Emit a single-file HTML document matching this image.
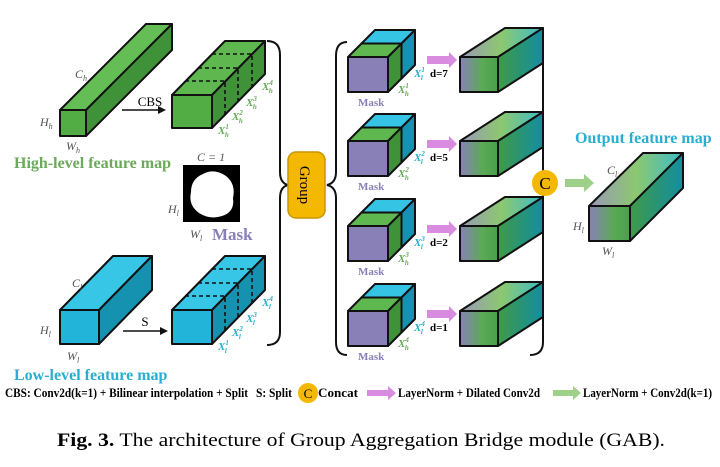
<!DOCTYPE html>
<html><head><meta charset="utf-8"><style>html,body{margin:0;padding:0;background:#fff}svg{display:block}</style></head>
<body>
<svg width="720" height="467" viewBox="0 0 720 467" xmlns="http://www.w3.org/2000/svg" font-family="Liberation Serif, serif">
<defs>
<linearGradient id="gf" x1="0" y1="0" x2="1" y2="0"><stop offset="0" stop-color="#8a80b8"/><stop offset="0.6" stop-color="#5aaa55"/><stop offset="1" stop-color="#4a9e4c"/></linearGradient>
<linearGradient id="gt" x1="0" y1="0" x2="1" y2="0"><stop offset="0" stop-color="#9a98b8"/><stop offset="0.5" stop-color="#8cc870"/><stop offset="1" stop-color="#3cbcc8"/></linearGradient>
<linearGradient id="gs" x1="0" y1="0" x2="1" y2="0"><stop offset="0" stop-color="#3f9a48"/><stop offset="1" stop-color="#138ea0"/></linearGradient>
<g id="combo" stroke="#111" stroke-width="2" stroke-linejoin="round">
<polygon points="361.5,43.5 375,30 415,30 401.5,43.5" fill="#35c4e4"/>
<polygon points="401.5,43.5 415,30 415,65 401.5,78.5" fill="#1592b0"/>
<polygon points="348,57 361.5,43.5 401.5,43.5 388,57" fill="#5fb84f"/>
<polygon points="388,57 401.5,43.5 401.5,78.5 388,92" fill="#3f9238"/>
<rect x="348" y="57" width="40" height="35" fill="#8a80b8"/>
<polygon points="427,56 449,56 449,52 457,60 449,68 449,64 427,64" fill="#d98be0" stroke="none"/>
<polygon points="460,57 505,28 543,28 498,57" fill="url(#gt)"/>
<polygon points="498,57 543,28 543,63 498,92" fill="url(#gs)"/>
<rect x="460" y="57" width="38" height="35" fill="url(#gf)"/>
</g>
</defs>
<g stroke="#111" stroke-width="2" stroke-linejoin="round">
<!-- high-level bar -->
<polygon points="60,110 146,24 172,24 86,110" fill="#65bd55"/>
<polygon points="86,110 172,24 172,50 86,136" fill="#3f9238"/>
<rect x="60" y="110" width="26" height="26" fill="#52ad44"/>
<!-- green split -->
<polygon points="172,95 225,41 265,41 212,95" fill="#5fb84f"/>
<polygon points="212,95 265,41 265,74 212,128" fill="#3f9238"/>
<rect x="172" y="95" width="40" height="33" fill="#52ad44"/>
<!-- low-level bar -->
<polygon points="60,310 113,256 152,256 99,310" fill="#38c6e6"/>
<polygon points="99,310 152,256 152,290 99,344" fill="#1592b0"/>
<rect x="60" y="310" width="39" height="34" fill="#23b4da"/>
<!-- blue split -->
<polygon points="172,310 225,256 265,256 212,310" fill="#38c6e6"/>
<polygon points="212,310 265,256 265,290 212,344" fill="#1592b0"/>
<rect x="172" y="310" width="40" height="34" fill="#23b4da"/>
<!-- output -->
<polygon points="589,206 643,153 683,153 630,206" fill="url(#gt)"/>
<polygon points="630,206 683,153 683,188 630,241" fill="url(#gs)"/>
<rect x="589" y="206" width="41" height="35" fill="url(#gf)"/>
</g>
<g stroke="#111" stroke-width="1.6" stroke-dasharray="4,3" fill="none">
<path d="M185,81 H225 V115 M198,68 H238 V101 M212,54 H252 V88"/>
<path d="M185,296 H225 V330 M198,283 H238 V317 M212,269 H252 V303"/>
</g>
<!-- arrows -->
<g stroke="#111" stroke-width="1.5" fill="#111">
<line x1="122" y1="110" x2="160" y2="110"/><polygon points="166,110 158,106 158,114" stroke="none"/>
<line x1="123" y1="331" x2="162" y2="331"/><polygon points="168,331 160,327 160,335" stroke="none"/>
</g>
<text x="150" y="106" font-size="13" text-anchor="middle">CBS</text>
<text x="145" y="326" font-size="13" text-anchor="middle">S</text>
<!-- braces -->
<g stroke="#111" stroke-width="2" fill="none">
<path d="M267,41 Q280,41 280,55 V172 Q280,183 288,185 Q280,187 280,198 V332 Q280,345 267,345"/>
<path d="M347,42 Q336,42 336,56 V172 Q336,183 327,185 Q336,187 336,198 V342 Q336,355 347,355"/>
<path d="M530,28 Q543,28 543,42 V342 Q543,355 530,355"/>
</g>
<rect x="288" y="152" width="37" height="66" rx="8" fill="#f5b800" stroke="#c89400" stroke-width="1.5"/>
<text transform="translate(300,185) rotate(90)" font-size="15" text-anchor="middle">Group</text>
<!-- mask -->
<rect x="183" y="165" width="57" height="57" fill="#000"/>
<path d="M203,174 Q214,168 226,176 Q236,184 233,198 Q235,212 222,216 Q210,220 199,213 Q188,205 191,192 Q191,179 203,174Z" fill="#fff"/>
<g font-style="italic" fill="#555" font-size="12">
<text x="197" y="161">C = 1</text>
<text x="168" y="213">H<tspan font-size="8" dy="3">l</tspan></text>
<text x="190" y="238">W<tspan font-size="8" dy="3">l</tspan></text>
<text x="75" y="78">C<tspan font-size="8" dy="3">h</tspan></text>
<text x="40" y="126">H<tspan font-size="8" dy="3">h</tspan></text>
<text x="66" y="150">W<tspan font-size="8" dy="3">h</tspan></text>
<text x="72" y="287">C<tspan font-size="8" dy="3">l</tspan></text>
<text x="40" y="334">H<tspan font-size="8" dy="3">l</tspan></text>
<text x="67" y="360">W<tspan font-size="8" dy="3">l</tspan></text>
<text x="607" y="174">C<tspan font-size="8" dy="3">l</tspan></text>
<text x="573" y="230">H<tspan font-size="8" dy="3">l</tspan></text>
<text x="602" y="255">W<tspan font-size="8" dy="3">l</tspan></text>
</g>
<text x="212" y="240" font-size="17" font-weight="bold" fill="#8a80b8">Mask</text>
<text x="14" y="168" font-size="16" font-weight="bold" fill="#6aaa5a">High-level feature map</text>
<text x="14" y="380" font-size="16" font-weight="bold" fill="#28aed0">Low-level feature map</text>
<text x="575" y="143" font-size="16" font-weight="bold" fill="#28aed0">Output feature map</text>
<g font-style="italic" font-weight="bold" font-size="11" fill="#6aaa5a">
<text x="218" y="134">X<tspan font-size="7" dy="-5">1</tspan><tspan font-size="7" dy="8" dx="-4">h</tspan></text>
<text x="232" y="120">X<tspan font-size="7" dy="-5">2</tspan><tspan font-size="7" dy="8" dx="-4">h</tspan></text>
<text x="246" y="106">X<tspan font-size="7" dy="-5">3</tspan><tspan font-size="7" dy="8" dx="-4">h</tspan></text>
<text x="262" y="90">X<tspan font-size="7" dy="-5">4</tspan><tspan font-size="7" dy="8" dx="-4">h</tspan></text>
</g>
<g font-style="italic" font-weight="bold" font-size="11" fill="#28aed0">
<text x="218" y="350">X<tspan font-size="7" dy="-5">1</tspan><tspan font-size="7" dy="8" dx="-4">l</tspan></text>
<text x="232" y="336">X<tspan font-size="7" dy="-5">2</tspan><tspan font-size="7" dy="8" dx="-4">l</tspan></text>
<text x="246" y="322">X<tspan font-size="7" dy="-5">3</tspan><tspan font-size="7" dy="8" dx="-4">l</tspan></text>
<text x="262" y="306">X<tspan font-size="7" dy="-5">4</tspan><tspan font-size="7" dy="8" dx="-4">l</tspan></text>
</g>
<!-- groups -->
<use href="#combo"/>
<use href="#combo" y="84"/>
<use href="#combo" y="169"/>
<use href="#combo" y="254"/>
<g font-size="11" font-weight="bold">
<text x="358" y="106" fill="#8a80b8">Mask</text><text x="358" y="190" fill="#8a80b8">Mask</text><text x="358" y="275" fill="#8a80b8">Mask</text><text x="358" y="360" fill="#8a80b8">Mask</text>
<text x="430" y="77">d=7</text><text x="430" y="161">d=5</text><text x="430" y="246">d=2</text><text x="430" y="331">d=1</text>
</g>
<g font-style="italic" font-weight="bold" font-size="11">
<text x="414" y="77" fill="#28aed0">X<tspan font-size="7" dy="-5">1</tspan><tspan font-size="7" dy="8" dx="-4">l</tspan></text>
<text x="398" y="93" fill="#6aaa5a">X<tspan font-size="7" dy="-5">1</tspan><tspan font-size="7" dy="8" dx="-4">h</tspan></text>
<text x="414" y="161" fill="#28aed0">X<tspan font-size="7" dy="-5">2</tspan><tspan font-size="7" dy="8" dx="-4">l</tspan></text>
<text x="398" y="177" fill="#6aaa5a">X<tspan font-size="7" dy="-5">2</tspan><tspan font-size="7" dy="8" dx="-4">h</tspan></text>
<text x="414" y="246" fill="#28aed0">X<tspan font-size="7" dy="-5">3</tspan><tspan font-size="7" dy="8" dx="-4">l</tspan></text>
<text x="398" y="262" fill="#6aaa5a">X<tspan font-size="7" dy="-5">3</tspan><tspan font-size="7" dy="8" dx="-4">h</tspan></text>
<text x="414" y="331" fill="#28aed0">X<tspan font-size="7" dy="-5">4</tspan><tspan font-size="7" dy="8" dx="-4">l</tspan></text>
<text x="398" y="347" fill="#6aaa5a">X<tspan font-size="7" dy="-5">4</tspan><tspan font-size="7" dy="8" dx="-4">h</tspan></text>
</g>
<!-- concat -->
<circle cx="545" cy="183" r="13" fill="#f5b800"/>
<text x="545" y="189" font-size="17" text-anchor="middle">C</text>
<polygon points="565,179 584,179 584,174 594,183 584,192 584,187 565,187" fill="#9fd08a"/>
<!-- legend -->
<g font-size="12.5" font-weight="bold">
<text x="5" y="397" textLength="243" lengthAdjust="spacingAndGlyphs">CBS: Conv2d(k=1) + Bilinear interpolation + Split</text>
<text x="256" y="397" textLength="36" lengthAdjust="spacingAndGlyphs">S: Split</text>
<text x="318" y="397" textLength="40" lengthAdjust="spacingAndGlyphs">Concat</text>
<text x="398" y="397" textLength="142" lengthAdjust="spacingAndGlyphs">LayerNorm + Dilated Conv2d</text>
<text x="583" y="397" textLength="129" lengthAdjust="spacingAndGlyphs">LayerNorm + Conv2d(k=1)</text>
</g>
<circle cx="308" cy="393" r="10" fill="#f5b800"/>
<text x="308" y="398" font-size="13" text-anchor="middle">C</text>
<polygon points="367,390 388,390 388,386 396,393 388,400 388,396 367,396" fill="#d98be0"/>
<polygon points="553,390 573,390 573,386 581,393 573,400 573,396 553,396" fill="#9fd08a"/>
<text x="57" y="446" font-size="19" textLength="608" lengthAdjust="spacingAndGlyphs"><tspan font-weight="bold">Fig. 3.</tspan> The architecture of Group Aggregation Bridge module (GAB).</text>
</svg>
</body></html>
